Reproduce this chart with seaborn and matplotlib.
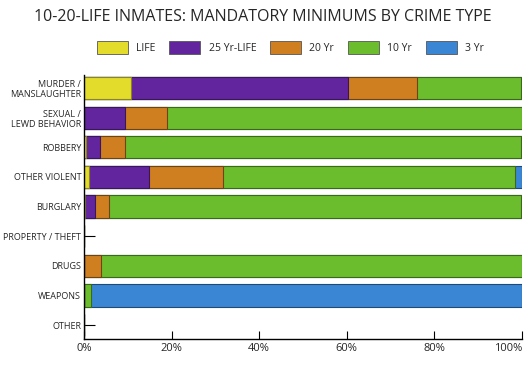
import matplotlib
matplotlib.use("Agg")
import matplotlib.pyplot as plt
import seaborn as sns
import pandas as pd
import numpy as np
from matplotlib.patches import Patch

categories = ["MURDER /\nMANSLAUGHTER", "SEXUAL /\nLEWD BEHAVIOR", "ROBBERY", "OTHER VIOLENT",
              "BURGLARY", "PROPERTY / THEFT", "DRUGS", "WEAPONS", "OTHER"]
series = ["LIFE", "25 Yr-LIFE", "20 Yr", "10 Yr", "3 Yr"]
life = [10.7, 0.0, 0.4, 1.1, 0.3, 0, 0.0, 0.0, 0]
yr25_life = [49.5, 9.4, 3.3, 13.8, 2.1, 0, 0.0, 0.0, 0]
yr20 = [15.8, 9.6, 5.7, 16.9, 3.3, 0, 3.8, 0.0, 0]
yr10 = [23.7, 81.0, 90.3, 66.7, 94.0, 0, 96.2, 1.7, 0]
yr3 = [0.3, 0.0, 0.3, 1.5, 0.3, 0, 0.0, 98.3, 0]
colors = ["#E3DC2B", "#62259E", "#CF7F20", "#6CBD2D", "#3A86D4"]
edges = ["#8a8520", "#3a165e", "#6e4512", "#3a6a18", "#1f4a78"]

sns.set_style("white")
plt.rcParams["font.family"] = ["Open Sans", "DejaVu Sans"]

df = pd.DataFrame({"cat": categories, "LIFE": life, "25 Yr-LIFE": yr25_life,
                   "20 Yr": yr20, "10 Yr": yr10, "3 Yr": yr3})
cum = df[series].cumsum(axis=1)

fig = plt.figure(figsize=(5.25, 3.75), dpi=100)
ax = fig.add_axes([0.16, 0.096, 0.834, 0.704])

for i in range(len(series) - 1, -1, -1):
    s = series[i]
    sns.barplot(x=cum[s], y=df["cat"], orient="h", color=colors[i], ax=ax,
                width=0.75, edgecolor=edges[i], linewidth=0.8, order=categories,
                saturation=1)

ax.set_xlim(0, 100)
ax.set_ylim(8.47, -0.44)
ax.set_xlabel("")
ax.set_ylabel("")
ax.set_xticks([0, 20, 40, 60, 80, 100])
ax.set_xticklabels(["0%", "20%", "40%", "60%", "80%", "100%"], fontsize=8)
ax.get_xticklabels()[-1].set_horizontalalignment("right")
ax.get_xticklabels()[-1].set_x(100.8)
ax.tick_params(axis="x", direction="in", length=6, width=0.8, color="black", pad=3)
ax.tick_params(axis="y", direction="in", length=8, width=0.8, color="black", pad=2, labelsize=6.5)
ax.yaxis.set_ticks_position("left")
ax.xaxis.set_ticks_position("bottom")
for t in ax.get_yticklabels():
    t.set_horizontalalignment("right")
    t.set_multialignment("right")
for sp in ["top", "right"]:
    ax.spines[sp].set_visible(False)
for sp in ["left", "bottom"]:
    ax.spines[sp].set_color("black")
    ax.spines[sp].set_linewidth(1.0)

handles = [Patch(facecolor=c, edgecolor="#555555", linewidth=0.6) for c in colors]
fig.legend(handles, series, loc="center", bbox_to_anchor=(0.553, 0.874), ncol=5,
           frameon=False, fontsize=7.5, handlelength=3.0, handleheight=1.6,
           columnspacing=1.3, handletextpad=0.8)

fig.text(0.5, 0.955, "10-20-LIFE INMATES: MANDATORY MINIMUMS BY CRIME TYPE",
         ha="center", va="center", fontsize=11.5)

fig.savefig("out.png", dpi=100)
